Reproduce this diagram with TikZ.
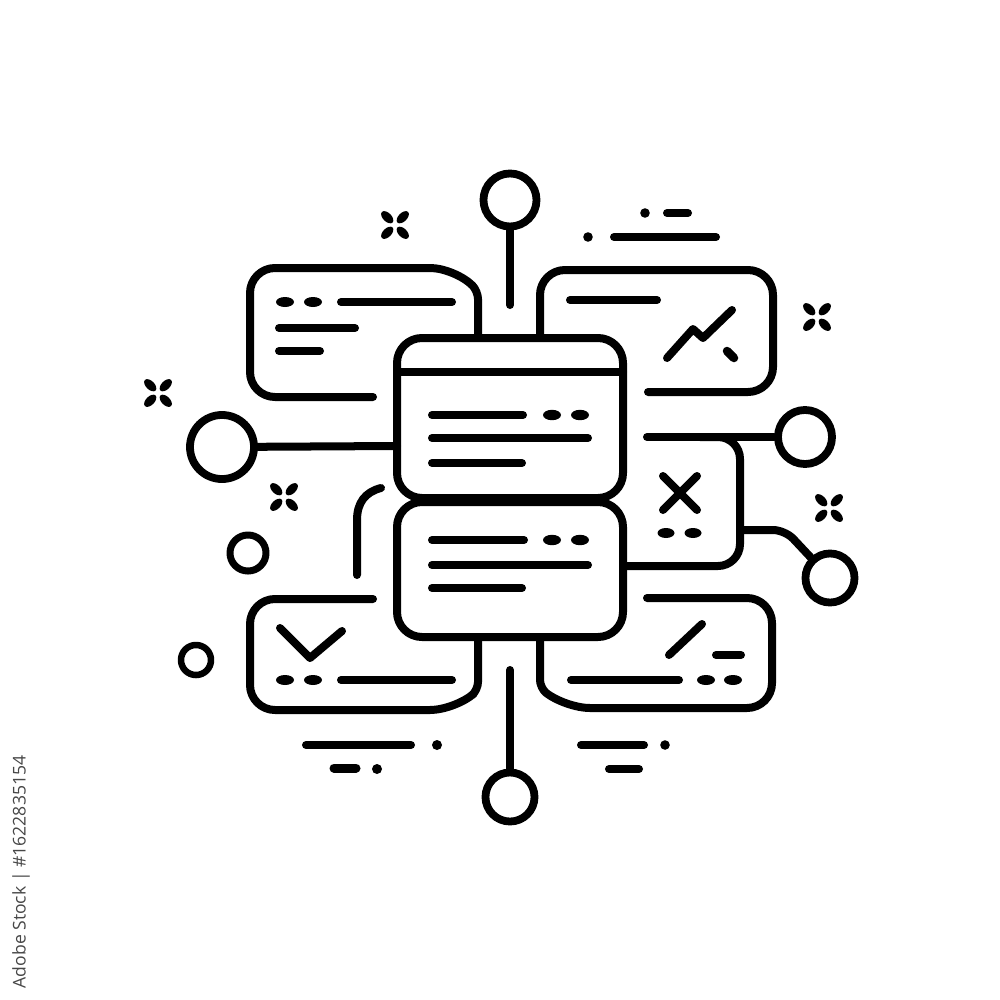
\documentclass[tikz,border=0pt]{standalone}
\usepackage{fontspec}
\newfontfamily\capfont{Open Sans}
\begin{document}
\begin{tikzpicture}[x=0.01cm,y=-0.01cm,line cap=round,line join=round,
  ink/.style={line width=0.08cm},
  bar/.style={line width=0.08cm,line cap=round},
  pinc/.style={circle,draw,line width=0.078cm,inner sep=0pt,fill=white},
  sparkle/.pic={\foreach \a in {45,135,225,315}{\fill[rotate=\a] (11,0) ellipse (7.5 and 4.3);}}]
\useasboundingbox (0,0) rectangle (1000,1000);

% ---- outer boxes ----
% top-left
\draw[ink,rounded corners=0.25cm] (373,397) -- (250,397) -- (250,268) -- (455,268) [rounded corners=0.08cm] -- (478,291) -- (478,338);
% top-right
\draw[ink,rounded corners=0.25cm] (540,336) -- (540,270) -- (773,270) -- (773,392) -- (648,392);
% bottom-left
\draw[ink,rounded corners=0.25cm] (373,599) -- (250,599) -- (250,710) -- (455,710) [rounded corners=0.08cm] -- (478,690) -- (478,637);
% bottom-right
\draw[ink,rounded corners=0.25cm] (647,598) -- (772,598) -- (772,708) -- (565,708) [rounded corners=0.08cm] -- (540,688) -- (540,637);
% X box
\draw[ink,rounded corners=0.22cm] (700,437) -- (740,437) -- (740,566) -- (623,566);

% ---- centre stack ----
\draw[ink,fill=white,rounded corners=0.25cm] (397,338) rectangle (623,498);
\draw[ink] (397,372) -- (623,372);
\draw[ink,fill=white,rounded corners=0.25cm] (397,502) rectangle (623,637);

% ---- pins ----
\node[pinc,minimum size=0.53cm] (ptop) at (510,200) {};
\node[pinc,minimum size=0.64cm] (pleft) at (222,447) {};
\node[pinc,minimum size=0.54cm] (pright) at (805,437) {};
\node[pinc,minimum size=0.49cm] (plr) at (830,578) {};
\node[pinc,minimum size=0.49cm] (pbot) at (510,797) {};
\node[pinc,minimum size=0.36cm,line width=0.07cm] (sc1) at (248,553) {};
\node[pinc,minimum size=0.30cm,line width=0.065cm] (sc2) at (196,660) {};
\coordinate (ctop) at (510,305);
\coordinate (cleft) at (397,446);
\coordinate (cright) at (647,437);
\coordinate (cbot) at (510,670);
\coordinate (cstub) at (740,530);
\draw[ink] (ptop) -- (ctop);
\draw[ink] (pleft) -- (cleft);
\draw[ink] (cright) -- (pright);
\draw[ink] (cbot) -- (pbot);
\draw[ink,rounded corners=0.12cm] (cstub) -- (785,530) -- (plr);

% bracket
\draw[ink] (381,488) .. controls (365,492) and (357,503) .. (357,520) -- (357,575);

% ---- contents: top-left ----
\fill (285,302) ellipse (9 and 5);
\fill (313,302) ellipse (9 and 5);
\draw[bar] (341,302) -- (452,302);
\draw[bar] (279,328) -- (355,328);
\draw[bar] (279,351) -- (320,351);
% top-right
\draw[bar] (570,300) -- (657,300);
\draw[bar] (667,358) -- (693,329) -- (703,338) -- (732,310);
\draw[line width=0.085cm] (727,351) -- (734,358);
% centre top
\draw[bar] (432,415) -- (523,415);
\fill (552,415) ellipse (9 and 5.2);
\fill (580,415) ellipse (9 and 5.2);
\draw[bar] (432,438) -- (588,438);
\draw[bar] (432,463) -- (522,463);
% centre bottom
\draw[bar] (432,540) -- (524,540);
\fill (552,540) ellipse (9 and 5.2);
\fill (580,540) ellipse (9 and 5.2);
\draw[bar] (432,565) -- (588,565);
\draw[bar] (432,588) -- (522,588);
% X box
\draw[bar] (663,476) -- (697,510);
\draw[bar] (697,476) -- (663,510);
\fill (666,533) ellipse (8.5 and 5);
\fill (693,533) ellipse (8.5 and 5);
% bottom-left
\draw[bar] (280,628) -- (310,658) -- (342,631);
\fill (285,680) ellipse (9 and 5);
\fill (313,680) ellipse (9 and 5);
\draw[bar] (341,680) -- (452,680);
% bottom-right
\draw[bar] (669,655) -- (702,624);
\draw[bar] (716,655) -- (741,655);
\draw[bar] (571,680) -- (679,680);
\fill (706,680) ellipse (9 and 5);
\fill (733,680) ellipse (9 and 5);

% ---- loose marks ----
\fill (645,213) circle (4.8);
\draw[bar] (667,213) -- (688,213);
\fill (588,237) circle (4.8);
\draw[bar] (614,237) -- (716,237);
\draw[bar] (306,745) -- (411,745);
\fill (437,745) circle (5);
\draw[line width=0.09cm] (334,768) -- (356,768);
\fill (377,769) circle (5);
\draw[bar] (581,745) -- (644,745);
\fill (665,745) circle (4.8);
\draw[bar] (609,769) -- (639,769);

% sparkles
\pic (s1) at (395,225) {sparkle};
\pic (s2) at (158,393) {sparkle};
\pic (s3) at (284,497) {sparkle};
\pic (s4) at (817,317) {sparkle};
\pic (s5) at (829,508) {sparkle};

% caption
\node[rotate=90,text=black!72,font=\capfont\fontsize{5}{6}\selectfont,inner sep=0pt] (cap) at (21,872) {Adobe Stock | \#1622835154};
\end{tikzpicture}
\end{document}
